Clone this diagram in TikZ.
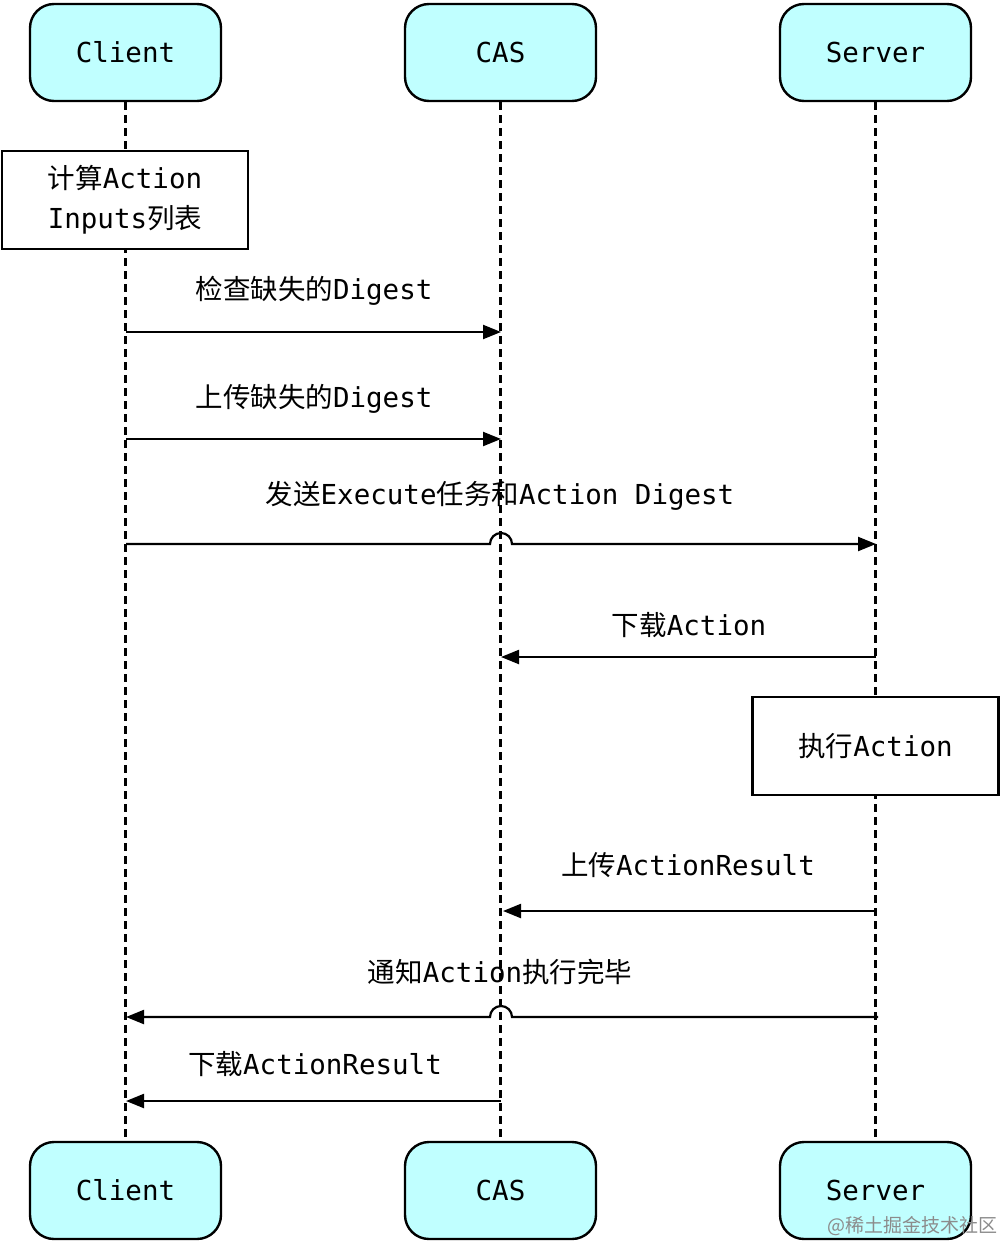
\documentclass[tikz,border=0pt]{standalone}
\usepackage{fontspec}
\setmainfont{DejaVu Sans Mono}
\newfontfamily\cjk{Noto Sans CJK SC}
\usetikzlibrary{arrows.meta}
\definecolor{actfill}{HTML}{C0FFFF}
\begin{document}
\begin{tikzpicture}[x=1pt,y=-1pt,
  actor/.style={draw, line width=2.4pt, fill=actfill, rounded corners=24pt,
    minimum width=191pt, minimum height=97pt, inner sep=0pt,
    font=\fontsize{27.5}{32}\selectfont},
  life/.style={line width=2.2pt, dash pattern=on 8pt off 5pt},
  msg/.style={line width=2.2pt, -{Triangle[length=18pt,width=14pt]}},
  lbl/.style={inner sep=0pt, font=\fontsize{27.5}{32}\selectfont},
  notebox/.style={draw, line width=2.2pt, fill=white, minimum width=246pt,
    minimum height=98pt, inner sep=0pt, align=center,
    font=\fontsize{27.5}{40}\selectfont}]
\useasboundingbox (0,0) rectangle (1002,1244);
% actors
\node[actor] (ct) at (125.5,52.5) {Client};
\node[actor] (at) at (500.5,52.5) {CAS};
\node[actor] (st) at (875.5,52.5) {Server};
\node[actor] (cb) at (125.5,1190.5) {Client};
\node[actor] (ab) at (500.5,1190.5) {CAS};
\node[actor] (sb) at (875.5,1190.5) {Server};
% lifelines
\draw[life] (ct.south) -- (cb.north);
\draw[life] (at.south) -- (ab.north);
\draw[life] (st.south) -- (sb.north);
% notes
\node[notebox] (n1) at (125,200) {{\cjk 计算}Action\\Inputs{\cjk 列表}};
\node[notebox] (n2) at (875.5,746) {{\cjk 执行}Action};
% message 1
\coordinate (m1a) at (126,332); \coordinate (m1b) at (501,332);
\draw[msg] (m1a) -- (m1b);
\node[lbl] (l1) at (314,291) {{\cjk 检查缺失的}Digest};
% message 2
\coordinate (m2a) at (126,439); \coordinate (m2b) at (501,439);
\draw[msg] (m2a) -- (m2b);
\node[lbl] (l2) at (314,399) {{\cjk 上传缺失的}Digest};
% message 3
\coordinate (m3a) at (126,544); \coordinate (m3b) at (876,544); \coordinate (h3) at (501,544);
\draw[msg] (m3a) -- ([xshift=-11pt]h3) arc[start angle=180,end angle=0,radius=11pt] -- (m3b);
\node[lbl] (l3) at (500,496) {{\cjk 发送}Execute{\cjk 任务和}Action Digest};
% message 4
\coordinate (m4a) at (876,657); \coordinate (m4b) at (501,657);
\draw[msg] (m4a) -- (m4b);
\node[lbl] (l4) at (689,625) {{\cjk 下载}Action};
% message 5
\coordinate (m5a) at (876,911); \coordinate (m5b) at (503,911);
\draw[msg] (m5a) -- (m5b);
\node[lbl] (l5) at (688,865) {{\cjk 上传}ActionResult};
% message 6
\coordinate (m6a) at (878,1017); \coordinate (m6b) at (126,1017); \coordinate (h6) at (501,1017);
\draw[msg] (m6a) -- ([xshift=11pt]h6) arc[start angle=0,end angle=180,radius=11pt] -- (m6b);
\node[lbl] (l6) at (500,972) {{\cjk 通知}Action{\cjk 执行完毕}};
% message 7
\coordinate (m7a) at (501,1101); \coordinate (m7b) at (126,1101);
\draw[msg] (m7a) -- (m7b);
\node[lbl] (l7) at (315,1064) {{\cjk 下载}ActionResult};
% watermark
\node[inner sep=0pt, anchor=east, text=black!45, font=\cjk\fontsize{19}{19}\selectfont] (wm) at (998,1226) {@稀土掘金技术社区};
\end{tikzpicture}
\end{document}
